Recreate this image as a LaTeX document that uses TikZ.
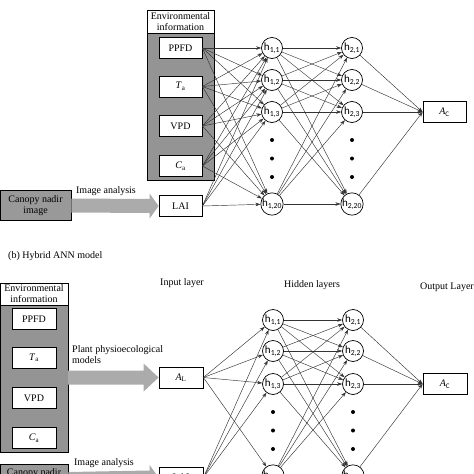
\documentclass[tikz,border=0pt]{standalone}
\usepackage{fontspec}
\setmainfont{Liberation Serif}
\newfontfamily\carlito{Carlito}
\usetikzlibrary{arrows.meta,calc}
\newcommand\bigarr[4]{%
  \fill[bigarrow] ($(#1)+(0,-7)$) -- ($(#2)+(-#3,-7)$) -- ($(#2)+(-#3,-#4)$) -- (#2)
    -- ($(#2)+(-#3,#4)$) -- ($(#2)+(-#3,7)$) -- ($(#1)+(0,7)$) -- cycle;}
\begin{document}
\begin{tikzpicture}[x=1pt,y=-1pt,font=\fontsize{10}{11}\selectfont,
  inbox/.style={draw, fill=white, minimum width=43pt, minimum height=21pt, inner sep=0pt, line width=0.8pt},
  hn/.style={circle, draw, fill=white, minimum size=21pt, inner sep=0pt, line width=0.7pt, font=\carlito\fontsize{11}{12}\selectfont},
  conn/.style={-{Stealth[length=5pt,width=3.5pt]}, line width=0.45pt, draw=black!80},
  bigarrow/.style={fill=black!33},
  envbox/.style={draw, line width=0.9pt, fill=black!42},
  envhead/.style={draw, line width=0.9pt, fill=white},
  grayblock/.style={draw, line width=0.9pt, fill=black!40, align=center, inner sep=0pt},
  dot/.style={circle, fill=black, inner sep=0pt, minimum size=4pt},
  lbl/.style={inner sep=0pt}]
\useasboundingbox (0,0) rectangle (474,474);
\clip (0,0) rectangle (474,474);

% ================= (a) top =================
\draw[envbox] (147,10) rectangle (214,180);
\draw[envhead] (147,10) rectangle (214,33);
\node[lbl, align=center] (envA) at (180.5,21.5) {Environmental\\information};

\node[inbox] (a1) at (180.5,48) {PPFD};
\node[inbox] (a2) at (180.5,86.5) {\textit{T}\textsubscript{a}};
\node[inbox] (a3) at (180.5,126) {VPD};
\node[inbox] (a4) at (180.5,166) {\textit{C}\textsubscript{a}};
\node[inbox] (a5) at (180.5,206) {LAI};

\node[grayblock, minimum width=71pt, minimum height=30pt] (cnA) at (35.5,205.5) {Canopy nadir\\image};
\bigarr{cnA.east}{a5.west}{9}{12.5}
\node[lbl] (iaA) at (106,191) {Image analysis};

\foreach \i/\y in {1/48,2/80,3/112,20/204} {
  \node[hn] (p\i) at (272,\y) {h\textsubscript{1,\i}};
  \node[hn] (q\i) at (352,\y) {h\textsubscript{2,\i}};
}
\foreach \y in {140,158.5,177} {
  \node[dot] at (272,\y) {};
  \node[dot] at (352,\y) {};
}
\node[inbox] (acA) at (444.5,112) {\textit{A}{\carlito\textsubscript{C}}};

\foreach \a in {a1,a2,a3,a4,a5}
  \foreach \h in {p1,p2,p3,p20}
    \draw[conn] (\a.east) -- (\h);
\foreach \h in {p1,p2,p3,p20}
  \foreach \k in {q1,q2,q3,q20}
    \draw[conn] (\h) -- (\k);
\foreach \k in {q1,q2,q3,q20}
  \draw[conn] (\k) -- (acA.west);

% ================= (b) bottom =================
\node[lbl, anchor=west] (titleB) at (8,256) {(b) Hybrid ANN model};
\node[lbl] (inl) at (182,283) {Input layer};
\node[lbl] (hidl) at (312,285) {Hidden layers};
\node[lbl, anchor=west] (outl) at (420,287) {Output Layer};

\draw[envbox] (0,283) rectangle (68,452);
\draw[envhead] (0,283) rectangle (68,305);
\node[lbl, align=center] (envB) at (34,294) {Environmental\\information};
\node[inbox, minimum width=44pt] (b1) at (34,319) {PPFD};
\node[inbox, minimum width=44pt] (b2) at (34,358) {\textit{T}\textsubscript{a}};
\node[inbox, minimum width=44pt] (b3) at (34,398) {VPD};
\node[inbox, minimum width=44pt] (b4) at (34,438) {\textit{C}\textsubscript{a}};

\node[inbox, minimum width=44pt] (al) at (181,377.5) {\textit{A}\textsubscript{L}};
\coordinate (envE) at (68,377.5);
\bigarr{envE}{al.west}{15}{14}
\node[lbl, anchor=west, align=left] (ppm) at (72,354.5) {Plant physioecological\\models};

\node[grayblock, minimum width=68pt, minimum height=30pt] (cnB) at (34,479) {Canopy nadir\\image};
\node[inbox, minimum width=44pt] (laiB) at (181,477.5) {LAI};
\bigarr{cnB.east}{laiB.west}{9}{12.5}
\node[lbl] (iaB) at (104,463) {Image analysis};

\foreach \i/\y in {1/320,2/351,3/384,20/476} {
  \node[hn] (r\i) at (273,\y) {h\textsubscript{1,\i}};
  \node[hn] (s\i) at (353,\y) {h\textsubscript{2,\i}};
}
\foreach \y in {412,430.5,449} {
  \node[dot] at (273,\y) {};
  \node[dot] at (353,\y) {};
}
\node[inbox, minimum width=44pt] (acB) at (445,384) {\textit{A}{\carlito\textsubscript{C}}};

\foreach \a in {al,laiB}
  \foreach \h in {r1,r2,r3,r20}
    \draw[conn] (\a.east) -- (\h);
\foreach \h in {r1,r2,r3,r20}
  \foreach \k in {s1,s2,s3,s20}
    \draw[conn] (\h) -- (\k);
\foreach \k in {s1,s2,s3,s20}
  \draw[conn] (\k) -- (acB.west);
\end{tikzpicture}
\end{document}
